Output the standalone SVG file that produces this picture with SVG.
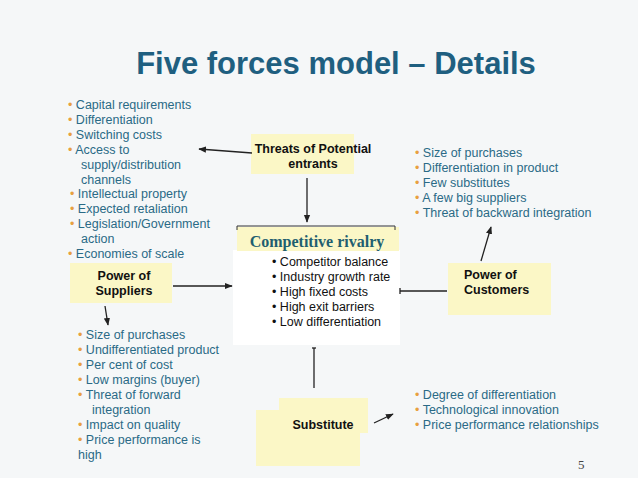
<svg xmlns="http://www.w3.org/2000/svg" width="638" height="478" viewBox="0 0 638 478">
<style>
.t{font-family:"Liberation Sans",Arial,sans-serif;font-size:12.5px;fill:#2a6a86}
.b{fill:#e8a040}
.k{font-family:"Liberation Sans",Arial,sans-serif;font-size:12.5px;fill:#111;font-weight:bold}
.n{font-family:"Liberation Sans",Arial,sans-serif;font-size:12.5px;fill:#111}
.y{fill:#fbf7c6}
.c{stroke:#222;stroke-width:1.3;fill:none}
</style>
<defs><marker id="a" viewBox="0 0 10 10" refX="9" refY="5" markerWidth="6" markerHeight="6" orient="auto"><path d="M0,1L10,5L0,9z" fill="#222"/></marker></defs>
<rect width="638" height="478" fill="#f5f7f8"/>
<text x="336" y="74" text-anchor="middle" font-family="Liberation Sans,Arial,sans-serif" font-size="31" font-weight="bold" fill="#1f5f80">Five forces model – Details</text>
<g id="entrants-list" class="t">
<text x="68" y="109"><tspan class="b">• </tspan> Capital requirements</text>
<text x="68" y="124"><tspan class="b">• </tspan> Differentiation</text>
<text x="68" y="139"><tspan class="b">• </tspan> Switching costs</text>
<text x="68" y="154"><tspan class="b">• </tspan> Access to</text>
<text x="81" y="169">supply/distribution</text>
<text x="81" y="184">channels</text>
<text x="70" y="198"><tspan class="b">•</tspan> Intellectual property</text>
<text x="70" y="213"><tspan class="b">•</tspan> Expected retaliation</text>
<text x="70" y="228"><tspan class="b">•</tspan> Legislation/Government</text>
<text x="81" y="243">action</text>
<text x="68" y="258"><tspan class="b">• </tspan> Economies of scale</text>
</g>
<g id="threats"><rect class="y" x="251" y="134" width="103" height="40"/>
<text class="k" x="313" y="153" text-anchor="middle">Threats of Potential</text>
<text class="k" x="313" y="168" text-anchor="middle">entrants</text></g>
<g id="rivalry">
<rect fill="#fff" x="233" y="250" width="167" height="95"/>
<rect class="y" x="237" y="227" width="162" height="24"/>
<path d="M237,230V226H395V230" stroke="#333" fill="none"/>
<text x="317" y="247" text-anchor="middle" font-family="Liberation Serif,serif" font-size="16" font-weight="bold" fill="#1f5f70">Competitive rivalry</text>
<text class="n" x="272" y="266">• Competitor balance</text>
<text class="n" x="272" y="281">• Industry growth rate</text>
<text class="n" x="272" y="296">• High fixed costs</text>
<text class="n" x="272" y="311">• High exit barriers</text>
<text class="n" x="272" y="326">• Low differentiation</text>
</g>
<g id="suppliers"><rect class="y" x="70" y="263" width="102" height="40"/>
<text class="k" x="124" y="280" text-anchor="middle">Power of</text>
<text class="k" x="124" y="295" text-anchor="middle">Suppliers</text></g>
<g id="suppliers-list" class="t">
<text x="78" y="339"><tspan class="b">• </tspan> Size of purchases</text>
<text x="78" y="354"><tspan class="b">• </tspan> Undifferentiated product</text>
<text x="78" y="369"><tspan class="b">• </tspan> Per cent of cost</text>
<text x="78" y="384"><tspan class="b">• </tspan> Low margins (buyer)</text>
<text x="78" y="399"><tspan class="b">• </tspan> Threat of forward</text>
<text x="92" y="414">integration</text>
<text x="78" y="429"><tspan class="b">• </tspan> Impact on quality</text>
<text x="78" y="444"><tspan class="b">• </tspan> Price performance is</text>
<text x="78" y="459">high</text>
</g>
<g id="customers"><rect class="y" x="448" y="263" width="103" height="52"/>
<text class="k" x="464" y="279">Power of</text>
<text class="k" x="464" y="294">Customers</text></g>
<g id="customers-list" class="t">
<text x="415" y="157"><tspan class="b">• </tspan> Size of purchases</text>
<text x="415" y="172"><tspan class="b">• </tspan> Differentiation in  product</text>
<text x="415" y="187"><tspan class="b">• </tspan> Few substitutes</text>
<text x="415" y="202"><tspan class="b">• </tspan> A few big suppliers</text>
<text x="415" y="217"><tspan class="b">• </tspan> Threat of backward integration</text>
</g>
<g id="substitute">
<rect class="y" x="279" y="398" width="89" height="35"/>
<rect class="y" x="256" y="410" width="104" height="56"/>
<rect class="y" x="279" y="398" width="81" height="35"/>
<text class="k" x="323" y="429" text-anchor="middle">Substitute</text></g>
<g id="substitute-list" class="t">
<text x="415" y="399"><tspan class="b">• </tspan> Degree of differentiation</text>
<text x="415" y="414"><tspan class="b">• </tspan> Technological innovation</text>
<text x="415" y="429"><tspan class="b">• </tspan> Price performance relationships</text>
</g>
<text x="578" y="469" font-family="Liberation Serif,serif" font-size="13" fill="#444">5</text>
<g id="connectors" class="c">
<line x1="252" y1="153" x2="199" y2="149" marker-end="url(#a)"/>
<line x1="307" y1="178" x2="307" y2="222" marker-end="url(#a)"/>
<line x1="173" y1="286" x2="232" y2="286" marker-end="url(#a)"/>
<line x1="105" y1="306" x2="108" y2="325" marker-end="url(#a)"/>
<line x1="447" y1="291" x2="400" y2="291"/><line x1="400" y1="288" x2="400" y2="294"/>
<line x1="481" y1="261" x2="491" y2="227" marker-end="url(#a)"/>
<line x1="314" y1="388" x2="314" y2="348"/><line x1="312" y1="348" x2="316" y2="348"/>
<line x1="374" y1="423" x2="393" y2="414" marker-end="url(#a)"/>
</g>
</svg>
